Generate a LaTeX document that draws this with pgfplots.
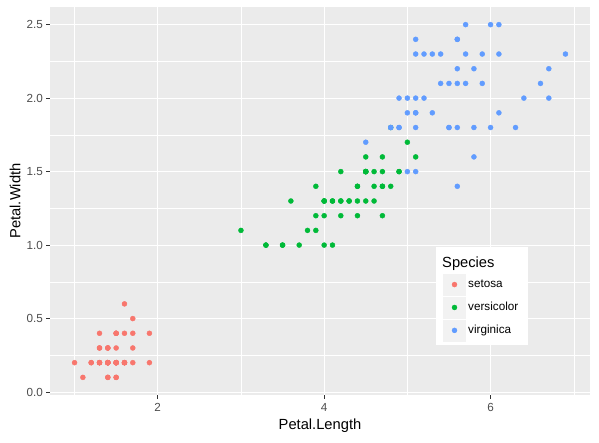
\documentclass[border=0pt]{standalone}
\usepackage{fontspec}
\setmainfont{Liberation Sans}
\usepackage{pgfplots}
\pgfplotsset{compat=1.18}
\definecolor{cset}{HTML}{F8766D}
\definecolor{cver}{HTML}{00BA38}
\definecolor{cvir}{HTML}{619CFF}
\definecolor{panel}{HTML}{EBEBEB}
\definecolor{keybg}{HTML}{F2F2F2}
\definecolor{gtext}{HTML}{4D4D4D}
\definecolor{gtick}{HTML}{333333}
\begin{document}
\begin{tikzpicture}
\begin{axis}[
  scale only axis, width=540pt, height=388pt,
  xmin=0.705, xmax=7.195, ymin=-0.02, ymax=2.62,
  axis background/.style={fill=panel},
  axis line style={draw=none},
  xtick={2,4,6}, ytick={0,0.5,1,1.5,2,2.5},
  minor xtick={1,3,5,7}, minor ytick={0.25,0.75,1.25,1.75,2.25},
  grid=both,
  major grid style={white, line width=1.07pt},
  minor grid style={white, line width=0.53pt},
  tick align=outside, xtick pos=bottom, ytick pos=left,
  major tick length=3.7pt, minor tick length=0pt,
  tick style={gtick, line width=1.07pt},
  /pgf/number format/assume math mode=true,
  yticklabel style={/pgf/number format/fixed, /pgf/number format/fixed zerofill, /pgf/number format/precision=1},
  ticklabel style={font=\fontsize{11.7}{13}\selectfont, text=gtext},
  xticklabel style={yshift=-1pt},
  xlabel={Petal.Length}, ylabel={Petal.Width},
  label style={font=\fontsize{14.7}{16}\selectfont},
  xlabel style={yshift=0pt},
  ylabel style={yshift=-1pt},
  legend cell align=left,
  legend style={at={(rel axis cs:0.715,0.381)}, anchor=north west,
    draw=none, fill=white, inner xsep=7pt, inner ysep=4pt, row sep=1.5pt,
    font=\fontsize{11.7}{13}\selectfont,
    nodes={inner xsep=2.5pt, inner ysep=1pt}},
  legend image code/.code={
    \fill[keybg] (0pt,-10.5pt) rectangle (22pt,10.5pt);
    \fill (11pt,0pt) circle (2.5pt);
  },
]
\addlegendimage{legend image code/.code={\path[draw=none, fill=none] (0pt,-9pt) rectangle (22pt,12pt);}}
\addlegendentry{\hspace*{-26pt}\fontsize{14.7}{16}\selectfont Species}
\addplot[only marks, mark=*, mark size=2.5pt, color=cset, mark options={draw=none, fill=cset}] coordinates {
(1.4,0.2)(1.4,0.2)(1.3,0.2)(1.5,0.2)(1.4,0.2)(1.7,0.4)(1.4,0.3)(1.5,0.2)(1.4,0.2)(1.5,0.1)
(1.5,0.2)(1.6,0.2)(1.4,0.1)(1.1,0.1)(1.2,0.2)(1.5,0.4)(1.3,0.4)(1.4,0.3)(1.7,0.3)(1.5,0.3)
(1.7,0.2)(1.5,0.4)(1.0,0.2)(1.7,0.5)(1.9,0.2)(1.6,0.2)(1.6,0.4)(1.5,0.2)(1.4,0.2)(1.6,0.2)
(1.6,0.2)(1.5,0.4)(1.5,0.1)(1.4,0.2)(1.5,0.2)(1.2,0.2)(1.3,0.2)(1.4,0.1)(1.3,0.2)(1.5,0.2)
(1.3,0.3)(1.3,0.3)(1.3,0.2)(1.6,0.6)(1.9,0.4)(1.4,0.3)(1.6,0.2)(1.4,0.2)(1.5,0.2)(1.4,0.2)
};
\addlegendentry{setosa}
\addplot[only marks, mark=*, mark size=2.5pt, color=cver, mark options={draw=none, fill=cver}] coordinates {
(4.7,1.4)(4.5,1.5)(4.9,1.5)(4.0,1.3)(4.6,1.5)(4.5,1.3)(4.7,1.6)(3.3,1.0)(4.6,1.3)(3.9,1.4)
(3.5,1.0)(4.2,1.5)(4.0,1.0)(4.7,1.4)(3.6,1.3)(4.4,1.4)(4.5,1.5)(4.1,1.0)(4.5,1.5)(3.9,1.1)
(4.8,1.8)(4.0,1.3)(4.9,1.5)(4.7,1.2)(4.3,1.3)(4.4,1.4)(4.8,1.4)(5.0,1.7)(4.5,1.5)(3.5,1.0)
(3.8,1.1)(3.7,1.0)(3.9,1.2)(5.1,1.6)(4.5,1.5)(4.5,1.6)(4.7,1.5)(4.4,1.3)(4.1,1.3)(4.0,1.3)
(4.4,1.2)(4.6,1.4)(4.0,1.2)(3.3,1.0)(4.2,1.3)(4.2,1.2)(4.2,1.3)(4.3,1.3)(3.0,1.1)(4.1,1.3)
};
\addlegendentry{versicolor}
\addplot[only marks, mark=*, mark size=2.5pt, color=cvir, mark options={draw=none, fill=cvir}] coordinates {
(6.0,2.5)(5.1,1.9)(5.9,2.1)(5.6,1.8)(5.8,2.2)(6.6,2.1)(4.5,1.7)(6.3,1.8)(5.8,1.8)(6.1,2.5)
(5.1,2.0)(5.3,1.9)(5.5,2.1)(5.0,2.0)(5.1,2.4)(5.3,2.3)(5.5,1.8)(6.7,2.2)(6.9,2.3)(5.0,1.5)
(5.7,2.3)(4.9,2.0)(6.7,2.0)(4.9,1.8)(5.7,2.1)(6.0,1.8)(4.8,1.8)(4.9,1.8)(5.6,2.1)(5.8,1.6)
(6.1,1.9)(6.4,2.0)(5.6,2.2)(5.1,1.5)(5.6,1.4)(6.1,2.3)(5.6,2.4)(5.5,1.8)(4.8,1.8)(5.4,2.1)
(5.6,2.4)(5.1,2.3)(5.1,1.9)(5.9,2.3)(5.7,2.5)(5.2,2.3)(5.0,1.9)(5.2,2.0)(5.4,2.3)(5.1,1.8)
};
\addlegendentry{virginica}
\coordinate (sw) at (rel axis cs:0,0);
\coordinate (ne) at (rel axis cs:1,1);
\end{axis}
\pgfresetboundingbox
\path ([shift={(-50pt,-47pt)}]sw) rectangle ([shift={(9pt,7pt)}]ne);
\end{tikzpicture}
\end{document}
